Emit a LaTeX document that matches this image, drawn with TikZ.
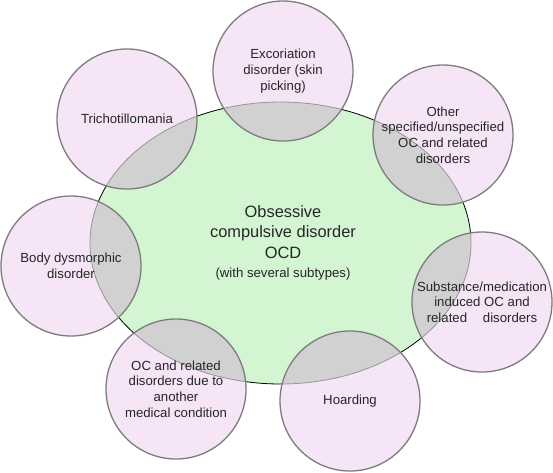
\documentclass[tikz,border=0pt]{standalone}
\usepackage{fontspec}
\setmainfont{Liberation Sans}
\usetikzlibrary{shapes.geometric}
\definecolor{pinkfill}{HTML}{F5E5F7}
\definecolor{greenfill}{HTML}{D3F5D1}
\definecolor{overlapgray}{HTML}{D1D1D1}
\definecolor{ringgray}{HTML}{7C7C7C}
\tikzset{
  subcircle/.style={circle, minimum size=140pt, inner sep=0pt, draw=ringgray, line width=1.3pt,
    align=center, font=\fontsize{13.2}{15.7}\selectfont, text=black!85},
  ocdshape/.style={ellipse, minimum width=381pt, minimum height=282pt, inner sep=0pt,
    fill=greenfill, draw=black, line width=0.8pt, align=center,
    font=\fontsize{16.4}{20.3}\selectfont, text=black!85},
}
\begin{document}
\begin{tikzpicture}[x=1pt,y=-1pt]
\useasboundingbox (0,0) rectangle (553,472);
% main ellipse
\node[ocdshape] (ocd) at (280.5,243) {\hspace*{5pt}Obsessive\\\hspace*{5pt}compulsive disorder\\\hspace*{5pt}OCD\\[-1pt]{\fontsize{13.2}{16}\selectfont\hspace*{5pt}(with several subtypes)}};
% centres of the satellite circles
\coordinate (cexc) at (283,71);
\coordinate (ctri) at (127,119);
\coordinate (coth) at (443,135);
\coordinate (cbod) at (71,266);
\coordinate (csub) at (482,302);
\coordinate (cdue) at (176,389);
\coordinate (choa) at (350,401);
% pink fills
\foreach \c in {cexc,ctri,coth,cbod,csub,cdue,choa}
  \fill[pinkfill] (\c) circle[radius=70pt];
% grey overlaps
\begin{scope}
  \clip (ocd.center) ellipse [x radius=190.5pt, y radius=141pt];
  \foreach \c in {cexc,ctri,coth,cbod,csub,cdue,choa}
    \fill[overlapgray] (\c) circle[radius=70pt];
\end{scope}
% ellipse border seen through the circles
\foreach \c in {cexc,ctri,coth,cbod,csub,cdue,choa}{
  \begin{scope}
    \clip (\c) circle[radius=70pt];
    \draw[ringgray!80, line width=0.8pt] (ocd.center) ellipse [x radius=190.5pt, y radius=141pt];
  \end{scope}
}
% circle outlines and labels
\node[subcircle] (exc) at (cexc) {\raisebox{3pt}{}Excoriation\\disorder (skin\\picking)};
\node[subcircle] (tri) at (ctri) {Trichotillomania};
\node[subcircle] (oth) at (coth) {Other\\specified/unspecified\\OC and related\\disorders};
\node[subcircle] (bod) at (cbod) {Body dysmorphic\\disorder};
\node[subcircle] (sub) at (csub) {Substance/medication\\induced OC and\\related\hspace{1.2em}disorders};
\node[subcircle] (due) at (cdue) {OC and related\\disorders due to\\another\\medical condition};
\node[subcircle] (hoa) at (choa) {Hoarding};
\end{tikzpicture}
\end{document}
